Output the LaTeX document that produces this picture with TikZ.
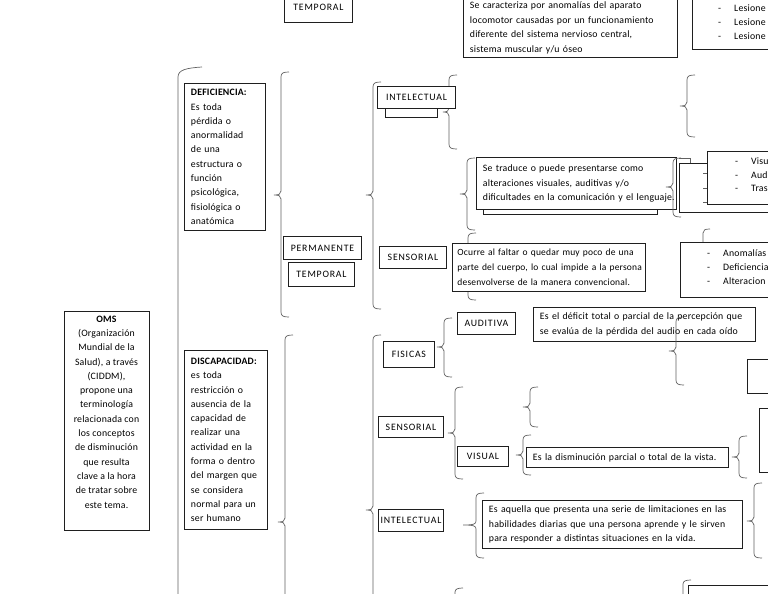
\documentclass[tikz,border=0pt]{standalone}
\usepackage{fontspec}
\setmainfont{Carlito}[LetterSpace=2]
\newfontfamily\lblfam{Carlito}[LetterSpace=8]
\newcommand\dfont{\fontsize{9.8}{14.3}\selectfont}
\newcommand\efont{\fontsize{9.8}{14.8}\selectfont}
\newcommand\lfont{\lblfam\fontsize{9.8}{14.3}\selectfont}
\newcommand\li[1]{\makebox[16pt][l]{-}#1}
% left curly brace: [tip]{x}{ytop}{ytip}{ybottom}
\newcommand\lbr[5][7]{%
  \draw[brc] ({#2+8},#3) .. controls ({#2+2},#3) and (#2,{#3+1}) .. (#2,{#3+5})
    -- (#2,{#4-4}) .. controls (#2,{#4-1}) and ({#2-2},#4) .. ({#2-#1},#4)
    .. controls ({#2-2},#4) and (#2,{#4+1}) .. (#2,{#4+4})
    -- (#2,{#5-5}) .. controls (#2,{#5-1}) and ({#2+2},#5) .. ({#2+8},#5);}
\tikzset{
  bx/.style={draw=black!88, line width=0.9pt, fill=white, inner sep=0pt, anchor=north west},
  lbl/.style={bx, align=center, font=\lfont},
  desc/.style={bx, align=left, inner xsep=6.5pt, font=\efont},
  brc/.style={draw=black!62, line width=0.7pt},
}
\begin{document}
\begin{tikzpicture}[x=1pt,y=-1pt]
\useasboundingbox (0,0) rectangle (768,594);
\clip (0,0) rectangle (768,594);
\fill[white] (0,0) rectangle (768,594);

% ---------- braces (behind boxes) ----------
\draw[brc] (202,67) .. controls (186,68) and (178,70) .. (178,77) -- (178,600);
\lbr{281}{72}{195}{317}
\lbr{373}{82}{195}{309}
\lbr[6]{449}{75}{112}{149}
\lbr{687}{75}{106}{137}
\lbr{467}{158}{194}{230}
\lbr{468}{233}{266}{300}
\draw[brc] (710,229) .. controls (705,229) and (703,230) .. (703,233) -- (703,243);
\lbr{285}{335}{522}{709}
\lbr{373}{335}{510}{685}
\lbr{444}{318}{347}{377}
\lbr{455}{387}{433}{479}
\lbr{530}{387}{407}{427}
\lbr{523}{435}{455}{475}
\lbr{739}{436}{457}{478}
\lbr[13]{476}{493}{525}{558}
\lbr{754}{483}{521}{558}
\draw[brc] (463,588) .. controls (458,588) and (455,589) .. (455,592) -- (455,600);
\draw[brc] (691,580) .. controls (686,580) and (683,581) .. (683,584) -- (683,600);

% ---------- top row ----------
\node[lbl, minimum width=68pt, minimum height=30pt] (temptop) at (284,-8) {TEMPORAL};
\node[desc, text width=201pt, minimum height=59pt] (topdesc) at (463,-2)
  {Se caracteriza por anomalías del aparato\\locomotor causadas por un funcionamiento\\diferente del sistema nervioso central,\\sistema muscular y/u óseo};
\node[bx, minimum width=80pt, minimum height=51pt] (toplist) at (692,-2) {};
\node[anchor=west, align=left, inner sep=0pt, font=\fontsize{9.8}{14}\selectfont] (toplistt) at (718,22)
  {\li{Lesione}\\\li{Lesione}\\\li{Lesione}};

% ---------- OMS ----------
\node[bx, minimum width=85pt, minimum height=219pt] (oms) at (64,311) {};
\node[anchor=north, align=center, inner sep=0pt, font=\dfont] (omst) at (106.5,315.5)
  {\textbf{OMS}\\(Organización\\Mundial de la\\Salud), a través\\(CIDDM),\\propone una\\terminología\\relacionada con\\los conceptos\\de disminución\\que resulta\\clave a la hora\\de tratar sobre\\este tema.};

% ---------- DEFICIENCIA ----------
\node[desc, font=\dfont, text width=68pt, minimum height=147pt] (defi) at (184,83)
  {\textbf{DEFICIENCIA:}\\Es toda\\pérdida o\\anormalidad\\de una\\estructura o\\función\\psicológica,\\fisiológica o\\anatómica};
\node[lbl, minimum width=78pt, minimum height=23pt] (perm) at (283,236) {PERMANENTE};
\node[lbl, minimum width=66pt, minimum height=24pt] (tempdef) at (288,262) {TEMPORAL};

\node[bx, minimum width=52pt, minimum height=17pt] (emptybox) at (385,100) {};
\node[lbl, minimum width=78pt, minimum height=22pt] (inteldef) at (377,86) {INTELECTUAL};
\node[lbl, minimum width=67pt, minimum height=22pt] (sensdef) at (379,246) {SENSORIAL};

\node[bx, minimum width=174pt, minimum height=19pt] (behind) at (483,195) {};
\node[desc, text width=187pt, minimum height=52pt] (setraduce) at (476,157)
  {Se traduce o puede presentarse como\\alteraciones visuales, auditivas y/o\\\mbox{dificultades en la comunicación y el lenguaje.}};
\draw[brc] (690,163) -- (690,158) -- (679,158);
\lbr{673}{158}{187}{217}
\node[bx, minimum width=92pt, minimum height=49pt] (visback) at (679,163) {};
\draw[brc] (703,173) -- (708,173) (703,188) -- (708,188) (703,202) -- (708,202);
\node[bx, minimum width=65pt, minimum height=53pt] (visfront) at (707,151) {};
\node[anchor=west, align=left, inner sep=0pt, font=\fontsize{9.8}{13.5}\selectfont] (vist) at (735,175)
  {\li{Visu}\\\li{Aud}\\\li{Tras}};

\node[desc, inner xsep=5pt, text width=183pt, minimum height=48pt, font=\fontsize{9.5}{14.8}\selectfont] (ocurre) at (452,243)
  {\mbox{Ocurre al faltar o quedar muy poco de una}\\\mbox{parte del cuerpo, lo cual impide a la persona}\\\mbox{desenvolverse de la manera convencional.}};
\node[bx, minimum width=92pt, minimum height=55pt] (anom) at (680,242) {};
\node[anchor=west, align=left, inner sep=0pt, font=\fontsize{9.8}{14}\selectfont] (anomt) at (707,267)
  {\li{Anomalías}\\\li{Deficiencia}\\\li{Alteracion}};

% ---------- DISCAPACIDAD ----------
\node[desc, font=\dfont, text width=70pt, minimum height=179pt] (disc) at (184,350)
  {\textbf{DISCAPACIDAD:}\\es toda\\restricción o\\ausencia de la\\capacidad de\\realizar una\\actividad en la\\forma o dentro\\del margen que\\se considera\\normal para un\\ser humano};
\node[lbl, minimum width=51pt, minimum height=26pt] (fisicas) at (383,341) {FISICAS};
\node[lbl, minimum width=58pt, minimum height=22pt] (auditiva) at (457,312) {AUDITIVA};
\node[desc, text width=209pt, minimum height=34pt] (deficit) at (533,307)
  {\mbox{Es el déficit total o parcial de la percepción que}\\\mbox{se evalúa de la pérdida del audio en cada oído}};
\lbr{676}{317}{351}{385}
\node[bx, minimum width=25pt, minimum height=34pt] (r1) at (747,359) {};
\node[bx, minimum width=13pt, minimum height=64pt] (r2) at (759,408) {};
\draw[line width=0.9pt, draw=black!88] (r1.south east) ++(-4,0) -- ++(0,15);

\node[lbl, minimum width=65pt, minimum height=21pt] (sensdis) at (378,416) {SENSORIAL};
\node[lbl, minimum width=51pt, minimum height=20pt] (visual) at (457,446) {VISUAL};
\node[desc, text width=189pt, minimum height=20pt] (vista) at (526,447)
  {\mbox{Es la disminución parcial o total de la vista.}};
\node[lbl, minimum width=65pt, minimum height=22pt] (inteldis) at (378,509) {INTELECTUAL};
\node[desc, text width=247pt, minimum height=48pt] (aquella) at (482,500)
  {\mbox{Es aquella que presenta una serie de limitaciones en las}\\\mbox{habilidades diarias que una persona aprende y le sirven}\\\mbox{para responder a distintas situaciones en la vida.}};
\node[bx, minimum width=84pt, minimum height=20pt] (wbox) at (688,585) {};
\end{tikzpicture}
\end{document}
